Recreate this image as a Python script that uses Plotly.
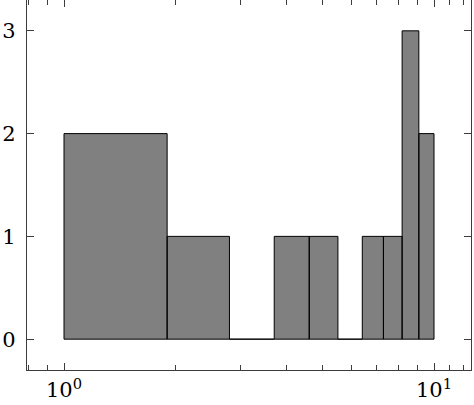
import plotly.graph_objects as go

bin_edges = [1.0, 1.9, 2.8, 3.7, 4.6, 5.5, 6.4, 7.3, 8.2, 9.1, 10.0]
counts = [2, 1, 0, 1, 1, 0, 1, 1, 3, 2]
major_ticks = [1, 10]
major_labels = ["10<sup>0</sup>", "10<sup>1</sup>"]
minor_ticks = [0.8, 0.9, 2, 3, 4, 5, 6, 7, 8, 9, 11, 12]
y_ticks = [0, 1, 2, 3]

xs, ys = [], []
for i, c in enumerate(counts):
    x0, x1 = bin_edges[i], bin_edges[i + 1]
    xs += [x0, x0, x1, x1, x0, None]
    ys += [0, c, c, 0, 0, None]

fig = go.Figure()
fig.add_trace(go.Scatter(
    x=xs, y=ys, mode="lines", fill="toself",
    fillcolor="#808080", line=dict(color="black", width=1),
    hoverinfo="skip", showlegend=False,
))

font = dict(family="DejaVu Serif, Liberation Serif, serif", size=21, color="black")
axcol = "#3c3c3c"
fig.update_layout(
    width=474, height=405,
    margin=dict(l=27, r=3, t=0, b=35, autoexpand=False),
    plot_bgcolor="white", paper_bgcolor="white",
    font=font,
    xaxis=dict(
        type="log", range=[-0.1, 1.1], automargin=False,
        tickmode="array", tickvals=major_ticks, ticktext=major_labels,
        ticks="inside", ticklen=7, tickwidth=1, tickcolor=axcol,
        minor=dict(tickmode="array", tickvals=minor_ticks, ticks="inside",
                   ticklen=5, tickwidth=1, tickcolor=axcol, showgrid=False),
        showline=True, linecolor=axcol, linewidth=1.3, mirror="ticks",
        showgrid=False, zeroline=False, ticklabelstandoff=1,
    ),
    yaxis=dict(
        range=[-0.3, 3.3], automargin=False,
        tickmode="array", tickvals=y_ticks,
        ticks="inside", ticklen=7, tickwidth=1, tickcolor=axcol,
        showline=True, linecolor=axcol, linewidth=1.3, mirror="ticks",
        showgrid=False, zeroline=False, ticklabelstandoff=6,
    ),
)
fig.write_html("out.html", config={"displayModeBar": False},
               post_script="document.body.style.margin='0';")
